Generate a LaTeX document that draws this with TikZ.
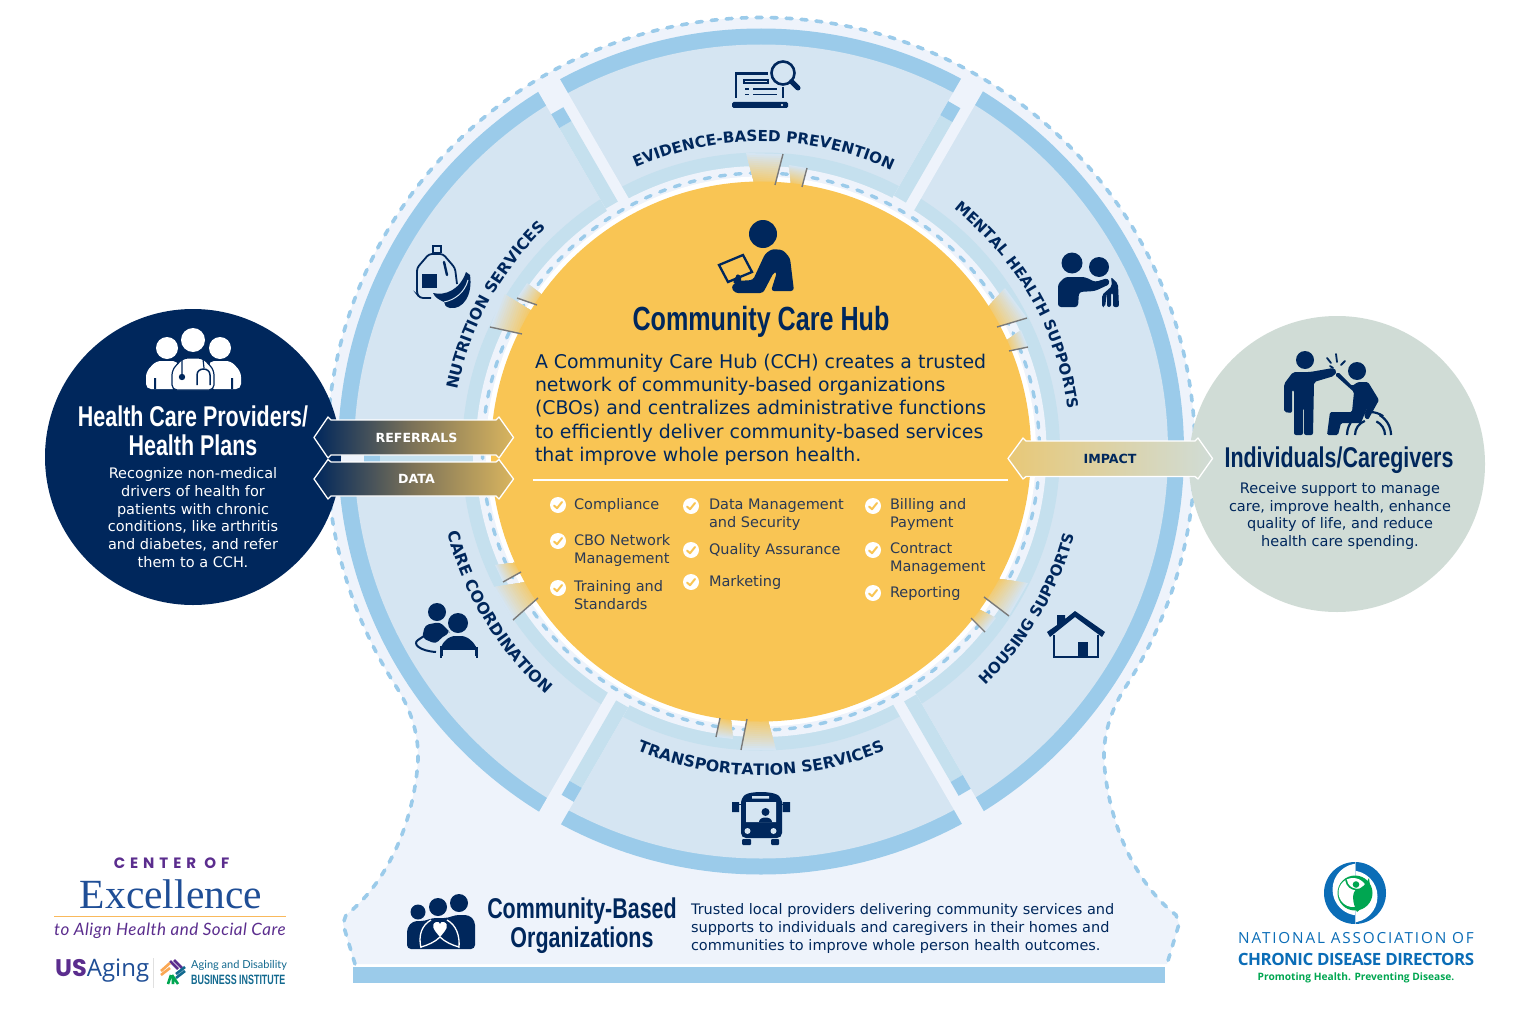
\documentclass[tikz,border=0pt]{standalone}
\usepackage{fontspec}
\usetikzlibrary{decorations.text,calc}
\setmainfont{DejaVu Sans}
\newfontfamily\condf[FakeStretch=0.75]{Liberation Sans}
\newfontfamily\narrf[FakeStretch=0.66]{Liberation Sans}
\newfontfamily\curvef{DejaVu Sans}
\newfontfamily\popp[LetterSpace=33]{Poppins}
\newfontfamily\latof{Lato}
\newfontfamily\lats[LetterSpace=3]{Lato}
\newfontfamily\openw[LetterSpace=12]{Open Sans}
\newfontfamily\openn[LetterSpace=-3]{Open Sans}
\newfontfamily\opens{Open Sans}
\newfontfamily\poppn{Poppins}
\newfontfamily\serifl{Liberation Serif}
\definecolor{navy}{HTML}{00275C}
\definecolor{gold}{HTML}{F9C554}
\definecolor{blue1}{HTML}{9BCBEA}
\definecolor{body1}{HTML}{D5E5F2}
\definecolor{light1}{HTML}{C5E0EE}
\definecolor{pale1}{HTML}{EEF3FB}
\definecolor{sage}{HTML}{D0DCD6}
\definecolor{txt1}{HTML}{2B3A55}
\definecolor{tip1}{HTML}{7A7A7A}
\definecolor{purp}{HTML}{5B2D8E}
\definecolor{logob}{HTML}{1F4E96}
\definecolor{orng}{HTML}{F9B95C}
\definecolor{ncb}{HTML}{0B6DB7}
\definecolor{ncg}{HTML}{00A651}
\definecolor{teal1}{HTML}{12698F}
\definecolor{arrr}{HTML}{D9B55F}
\definecolor{arrm}{HTML}{7D7358}
\definecolor{arrl}{HTML}{E8C877}
\tikzset{
 x=1pt,y=-1pt,
 curvetext/.style 2 args={decorate,decoration={text along path,text={|\curvef\bfseries\fontsize{#1}{18}\selectfont|#2},text align=center,text color=navy}},
 txt/.style={inner sep=0,outer sep=0,text=navy},
 para/.style={txt,align=left,anchor=west,font=\fontsize{14.5}{18}\selectfont},
 paraC/.style={txt,align=center,font=\fontsize{14.5}{17.8}\selectfont},
 chead/.style={txt,align=center,font=\condf\bfseries\fontsize{28.6}{28.5}\selectfont},
 flag/.style={draw=white,line width=1.3,line join=round},
 flagt/.style={inner sep=0,font=\bfseries\fontsize{12.6}{14}\selectfont},
 item/.style={inner sep=0,outer sep=0,text=txt1,align=left,anchor=west,font=\fontsize{14.5}{18}\selectfont},
 icon/.style={fill=navy},
 iconl/.style={draw=navy,line width=2.2},
}
\newcommand{\gtab}[4]{\foreach \s in {0,6,...,96}{\pgfmathsetmacro\u{\s/100*1.12}\fill[gold!\s!body1] ($(#1)!\u!(#4)$) -- ($(#2)!\u!(#3)$) -- ($(#2)!1.12!(#3)$) -- ($(#1)!1.12!(#4)$) -- cycle;}}
\newcommand{\gapband}[1]{\begin{scope}[shift={(761,451.5)},rotate=-#1]
 \fill[pale1] (268,-13) rectangle (426,12);
 \fill[light1] (288,-13) rectangle (381,1);
 \fill[blue1] (381,-13) rectangle (397,1);
 \end{scope}}
\newcommand{\chk}[2]{\begin{scope}[shift={(#1,#2)}]\fill[white] (0,0) circle[radius=8];
 \draw[gold,line width=2,line cap=round,line join=round] (-4,0.5) -- (-1,3.2) -- (4,-3);\end{scope}}
\begin{document}
\begin{tikzpicture}
\useasboundingbox (0,0) rectangle (1536,1030);
\fill[white] (0,0) rectangle (1536,1030);
% outer pale shape with dashed border
\path[fill=pale1,draw=blue1,line width=3.6,line cap=round,dash pattern=on 6 off 9]
 (355,964) -- (343,924) -- (346,915) .. controls (385,885) and (414,825) .. (418,760) .. controls (419,730) and (408,705) .. (397,688)
 -- plot[domain=147:393,samples=220,variable=\t] ({761+434*cos(\t)},{451.5+434*sin(\t)})
 .. controls (1114,705) and (1103,730) .. (1104,760) .. controls (1108,825) and (1137,885) .. (1176,915) -- (1179,924) -- (1167,964);
\fill[blue1] (353,967) rectangle (1165,983);
% rings
\fill[blue1] (761,451.5) circle[radius=423];
\fill[body1] (761,451.5) circle[radius=407];
\fill[light1] (761,451.5) circle[radius=299];
\fill[pale1] (761,451.5) circle[radius=285.5];
\gapband{-120}\gapband{-60}\gapband{60}\gapband{120}\gapband{180}
\fill[white] (761,451.5) circle[radius=275];
\draw[blue1,line width=3.4,line cap=round,dash pattern=on 6 off 9.5] (761,451.5) circle[radius=278.5];
% gradient tabs
\gtab{746,153}{783,154}{775,185}{754,182}
\gtab{789,165}{807,168}{802,187}{791,183}
\gtab{1005,288}{1027,318}{997,327}{988,307}
\gtab{1021,330}{1028,347}{1009,351}{1006.5,340.5}
\gtab{1028,583}{1009,616}{984,597}{1000,579}
\gtab{996,618}{985,632}{971,618}{980,610}
\gtab{776,750}{741,750}{747,719}{768,721}
\gtab{733,739}{716,737}{720,718}{731,721}
\gtab{493,587}{513,620}{538,598}{527,582}
\gtab{495,565}{503,582}{521,572}{513,563}
\gtab{503,293}{490,327}{522,334}{530,310}
\gtab{527,283}{517,298}{537,305}{542,295}
% hub
\node[circle,fill=gold,minimum size=540pt,inner sep=0] (hub) at (761,451.5) {};
% grey tab lines
\draw[tip1,line width=1.4] (783,154) -- (775,185) (807,168) -- (802,187)
 (1027,318) -- (997,327) (1028,347) -- (1009,351)
 (1009,616) -- (984,597) (985,632) -- (971,618)
 (741,750) -- (747,719) (716,737) -- (720,718)
 (513,620) -- (538,598) (503,582) -- (521,572)
 (490,327) -- (522,334) (517,298) -- (537,305);
% curved labels
\path[curvetext={15.2}{EVIDENCE-BASED PREVENTION}] plot[domain=-45:45,samples=90,variable=\t] ({761+310*cos(-89.5+\t)},{451.5+310*sin(-89.5+\t)});
\path[curvetext={15}{MENTAL HEALTH SUPPORTS}] plot[domain=-45:45,samples=90,variable=\t] ({761+310*cos(-29.7+\t)},{451.5+310*sin(-29.7+\t)});
\path[curvetext={15.6}{NUTRITION SERVICES}] plot[domain=-45:45,samples=90,variable=\t] ({761+310*cos(-151.2+\t)},{451.5+310*sin(-151.2+\t)});
\path[curvetext={15.2}{HOUSING SUPPORTS}] plot[domain=-45:45,samples=90,variable=\t] ({761+324*cos(30.5-\t)},{451.5+324*sin(30.5-\t)});
\path[curvetext={15.8}{TRANSPORTATION SERVICES}] plot[domain=-45:45,samples=90,variable=\t] ({761+324*cos(90-\t)},{451.5+324*sin(90-\t)});
\path[curvetext={15.9}{CARE COORDINATION}] plot[domain=-45:45,samples=90,variable=\t] ({761+324*cos(148.5-\t)},{451.5+324*sin(148.5-\t)});
% side circles
\node[circle,fill=navy,minimum size=296pt,inner sep=0] (left) at (193,457) {};
\node[circle,fill=sage,minimum size=296pt,inner sep=0] (right) at (1337,464) {};
% arrows
\shade[flag,left color=navy,right color=arrr,middle color=arrm] (314,437.5) -- (328,417) -- (331,420) -- (496,420) -- (499,417) -- (513.5,437.5) -- (499,458) -- (496,455) -- (331,455) -- (328,458) -- cycle;
\shade[flag,left color=navy,right color=arrr,middle color=arrm] (314,479) -- (328,459.5) -- (331,462) -- (496,462) -- (499,459.5) -- (513.5,479) -- (499,499) -- (496,496) -- (331,496) -- (328,499) -- cycle;
\shade[flag,left color=arrl,right color=sage] (1008,458.5) -- (1023,438) -- (1026,441) -- (1195,441) -- (1198,438) -- (1212.5,458.5) -- (1198,479) -- (1195,476.5) -- (1026,476.5) -- (1023,479) -- cycle;
\node[flagt,text=white] (ref) at (416.5,437.5) {REFERRALS};
\node[flagt,text=white] (dat) at (416.5,478.5) {DATA};
\node[flagt,text=navy] (imp) at (1110,459) {IMPACT};
% hub texts
\node[txt,font=\condf\bfseries\fontsize{33.5}{36}\selectfont] (hubt) at (761,322) {Community Care Hub};
\node[txt,align=left,anchor=west,font=\fontsize{18.9}{23.3}\selectfont] (hubp) at (535,409.5) {A Community Care Hub (CCH) creates a trusted\\network of community-based organizations\\(CBOs) and centralizes administrative functions\\to efficiently deliver community-based services\\that improve whole person health.};
\draw[white,line width=2] (533,479.5) -- (1008,479.5);
\chk{558}{505}\chk{558}{541}\chk{558}{588}
\chk{691}{506}\chk{691}{550}\chk{691}{582}
\chk{873}{506}\chk{873}{550}\chk{873}{593}
\node[item] (c1) at (574,505.5) {Compliance};
\node[item] (c2) at (574,550.5) {CBO Network\\Management};
\node[item] (c3) at (574,595) {Training and\\Standards};
\node[item] (c4) at (709,515) {Data Management\\and Security};
\node[item] (c5) at (709,550) {Quality Assurance};
\node[item] (c6) at (709,582) {Marketing};
\node[item] (c7) at (890,514) {Billing and\\Payment};
\node[item] (c8) at (890,559) {Contract\\Management};
\node[item] (c9) at (890,593) {Reporting};
% left circle texts
\node[chead,text=white] (lh) at (193,431) {Health Care Providers/\\Health Plans};
\node[paraC,text=white] (lp) at (193,517.5) {Recognize non-medical\\drivers of health for\\patients with chronic\\conditions, like arthritis\\and diabetes, and refer\\them to a CCH.};
% right circle texts
\node[chead] (rh) at (1339,460) {Individuals/Caregivers};
\node[paraC] (rp) at (1340,516) {Receive support to manage\\care, improve health, enhance\\quality of life, and reduce\\health care spending.};
% bottom texts
\node[chead] (bh) at (582,925.5) {Community-Based\\Organizations};
\node[para] (bp) at (691,928) {Trusted local providers delivering community services and\\supports to individuals and caregivers in their homes and\\communities to improve whole person health outcomes.};
% ICON laptop
\draw[iconl] (736,98) -- (736,73.5) -- (768,73.5) (783,87) -- (783,98);
\fill[icon,rounded corners=1.5] (732,102) rectangle (788,108);
\fill[white] (782,105) circle[radius=1.2];
\draw[navy,line width=2.6] (783,73) circle[radius=11.5];
\draw[navy,line width=5,line cap=round] (791.5,81.5) -- (798,88);
\draw[navy,line width=1.6] (744,80) rectangle (768,83) (753,89) -- (777,89) (753,94.5) -- (777,94.5) (745,89) -- (749,89) (745,94.5) -- (749,94.5);
% ICON hub person
\fill[icon] (763,234) circle[radius=14];
\fill[icon,rounded corners=3] (731,287) -- (737,281) -- (753,280) -- (765,254) -- (772,249) -- (783,250) -- (790,258) -- (794,291) -- (771,291) -- (777,272) -- (774,272) -- (763,293) -- (735,293) -- cycle;
\draw[navy,line width=2.3] (719,265) -- (743,255) -- (752,272) -- (728,282) -- cycle;
\fill[icon,rounded corners=1] (733,283) -- (737,274) -- (741,276) -- (741,283) -- cycle;
% ICON mental
\fill[icon] (1072,263) circle[radius=10.5] (1099,267) circle[radius=10];
\fill[icon,rounded corners=3] (1058,307) -- (1058,284) -- (1065,277) -- (1085,277) -- (1095,282) -- (1108,278) -- (1110,284) -- (1095,291) -- (1079,292) -- (1078,307) -- cycle;
\fill[icon,rounded corners=2] (1102,307) -- (1102,295) -- (1112,286) -- (1111,277) -- (1118,284) -- (1119,307) -- (1113,307) -- (1113,293) -- (1111,293) -- (1111,307) -- (1107,307) -- (1107,293) -- (1105,307) -- cycle;
% ICON house
\fill[icon] (1047,632) -- (1057,625) -- (1057,615) -- (1065,615) -- (1065,619) -- (1075,611) -- (1105,632) -- (1102,637) -- (1075,617) -- (1050,637) -- cycle;
\draw[navy,line width=2] (1054,635) -- (1054,657) -- (1098,657) -- (1098,635);
\fill[icon] (1078,642) rectangle (1088,657);
% ICON bus
\fill[icon,rounded corners=5] (741,838) -- (741,798) .. controls (750,791) and (772,791) .. (782,798) -- (782,838) -- cycle;
\fill[icon] (732,802) rectangle (739,812) (782.5,802) rectangle (790,812);
\draw[navy,line width=1] (739,804) -- (741,804) (781,804) -- (783,804);
\fill[icon,rounded corners=1] (742,839) rectangle (751,845) (771,839) rectangle (779,845);
\fill[body1] (746,802) rectangle (776,822) (752,796) rectangle (769,798.5) (747.5,831) circle[radius=3] (773.5,831) circle[radius=3];
\fill[icon] (765.5,812) circle[radius=4] (759,822) .. controls (759,816) and (772,816) .. (772,822) -- cycle;
% ICON jug + banana
\fill[icon] (432,245) rectangle (442,253);
\fill[body1] (434,247) rectangle (440,252);
\draw[navy,line width=1.8,rounded corners=3] (431,298) -- (420,298) -- (417,294) -- (417,268) -- (429,254) -- (443,254) -- (455,268) -- (457,284);
\fill[icon] (422,274) rectangle (437,288);
\draw[navy,line width=2.4,line cap=round] (444,262) -- (447,275);
\fill[icon] (433,293) .. controls (445,296) and (460,290) .. (466,272) -- (470,275) .. controls (473,295) and (463,310) .. (450,308) .. controls (446,307) and (444,305) .. (444,302) .. controls (440,300) and (435,298) .. (433,293) -- cycle;
\draw[body1,line width=1] (444,302) .. controls (455,300) and (465,292) .. (468,280);
% ICON care
\fill[icon] (437,612) circle[radius=9] (458,623) circle[radius=10];
\fill[icon,rounded corners=4] (422,638) -- (425,625) -- (440,622) -- (448,630) -- (450,633) -- (442,637) -- (436,644) -- cycle;
\fill[icon,rounded corners=5] (440,657) -- (441,645) -- (450,636) -- (466,636) -- (476,645) -- (478,657) -- cycle;
\fill[body1] (443,649) rectangle (475,658);
\fill[icon] (440,646) rectangle (476,650);
\draw[navy,line width=2] (441,647) -- (441,658) (477,647) -- (477,658);
\draw[navy,line width=2] (436,652) .. controls (420,651) and (412,644) .. (418,640) -- (424,636);
% ICON doctors
\fill[white] (193,340) circle[radius=12] (167,348) circle[radius=11] (220,348) circle[radius=11];
\fill[white,rounded corners=5] (146,389) -- (146,372) -- (156,361) -- (178,361) -- (178,389) -- cycle;
\fill[white,rounded corners=5] (241,389) -- (241,372) -- (231,361) -- (209,361) -- (209,389) -- cycle;
\fill[navy] (154,378) rectangle (156,389) (231,378) rectangle (233,389);
\fill[white,draw=navy,line width=1.2,rounded corners=5] (172,390) -- (172,370) -- (183,358) -- (203,358) -- (214,370) -- (214,390) -- cycle;
\fill[navy] (182,377) circle[radius=3.2];
\draw[navy,line width=1.2] (182,376) -- (182,360) (203,359) -- (204,368);
\draw[navy,line width=1.5] (197,385) -- (197,375) .. controls (197,367) and (210,367) .. (210,375) -- (210,385);
% ICON high five
\fill[icon] (1305,360) circle[radius=9] (1357,371) circle[radius=9];
\fill[icon,rounded corners=2] (1284,412) -- (1284,384) -- (1293,372) -- (1310,372) -- (1333,368) -- (1337,371) -- (1334,376) -- (1314,382) -- (1313,435) -- (1304,435) -- (1304,408) -- (1303,408) -- (1303,435) -- (1294,435) -- (1294,390) -- (1292,390) -- (1292,413) -- cycle;
\fill[icon,rounded corners=1.5] (1335,375) -- (1338,372) -- (1352,386) -- (1358,382) -- (1368,382) -- (1379,400) -- (1368,420) -- (1364,417) -- (1370,400) -- (1361,423) -- (1341,423) -- (1338,435) -- (1327,435) -- (1330,412) -- (1352,412) -- (1354,392) -- cycle;
\draw[navy,line width=2.2] (1347,435) arc[start angle=180,end angle=305,radius=23];
\draw[navy,line width=2.2] (1391,435) arc[start angle=0,end angle=-60,radius=23];
\draw[navy,line width=2.2] (1355,435) arc[start angle=180,end angle=250,radius=15] (1385,435) arc[start angle=0,end angle=-65,radius=15];
\draw[navy,line width=1.8,line cap=round] (1327,358) -- (1331,363) (1336,354) -- (1337,362) (1345,361) -- (1341,365) (1330,366) -- (1333,368);
% ICON community
\fill[icon] (418,912) circle[radius=7.5] (438,907) circle[radius=9] (459,903) circle[radius=9];
\fill[icon,rounded corners=4] (407,949) -- (407,928) -- (413,921) -- (425,921) -- (432,918) -- (448,918) -- (455,915) -- (469,915) -- (475,921) -- (475,949) -- cycle;
\draw[white,line width=1.3] (421,948) .. controls (418,935) and (422,925) .. (431,920) (459,948) .. controls (460,935) and (456,925) .. (447,920) (421,947) .. controls (428,945) and (435,942) .. (440,937) .. controls (445,942) and (452,945) .. (459,947);
\fill[white] (440,937) .. controls (434,930) and (430,925) .. (436,922) .. controls (438,921) and (440,923) .. (440,924) .. controls (440,923) and (442,921) .. (444,922) .. controls (450,925) and (446,930) .. (440,937) -- cycle;
% LOGO centre of excellence
\node[inner sep=0,text=purp,font=\popp\bfseries\fontsize{15}{18}\selectfont] (coe1) at (171.5,863) {CENTER OF};
\node[inner sep=0,text=logob,font=\serifl\fontsize{41.5}{44}\selectfont] (coe2) at (171,894.5) {Excellence};
\draw[orng,line width=1.2] (54,916.5) -- (286,916.5);
\node[inner sep=0,text=purp,font=\lats\itshape\fontsize{17}{18}\selectfont] (coe3) at (170,930.5) {to Align Health and Social Care};
\node[inner sep=0,anchor=west,font=\opens\fontsize{24}{26}\selectfont] (ua) at (55,971) {{\poppn\bfseries\color{purp}US}{\color{logob}Aging}};
\draw[black!12,line width=0.8] (153.5,958) -- (153.5,988);
\begin{scope}[line width=2.6]
\draw[purp] (170,961) -- (178,969) (174,960) -- (182,968);
\draw[orng!90!red] (161,971) -- (170,963) (161,975) -- (170,968);
\draw[teal1] (176,978) -- (185,971) (176,974) -- (185,967);
\draw[ncg] (168,984) -- (171,975) (178,984) -- (172,975) (173,984) -- (173,976);
\end{scope}
\node[inner sep=0,anchor=west,text=teal1,font=\latof\fontsize{11}{12}\selectfont] (ad) at (191,965.5) {Aging and Disability};
\node[inner sep=0,anchor=west,text=teal1,font=\narrf\bfseries\fontsize{13.5}{14}\selectfont] (bi) at (191,979.5) {BUSINESS INSTITUTE};
% LOGO NACDD
\begin{scope}
\clip (1320,855) rectangle (1355,930);
\fill[ncb] (1355,893) circle[radius=31];
\fill[white] (1358.5,889.5) circle[radius=26];
\end{scope}
\begin{scope}
\clip (1355.6,855) rectangle (1390,930);
\fill[ncb] (1355,893) circle[radius=31];
\fill[white] (1351.5,896.5) circle[radius=26];
\end{scope}
\fill[ncg] (1355,893) circle[radius=17.5];
\fill[white] (1353,892.5) circle[radius=14.5];
\fill[ncg] (1356,884.5) circle[radius=3.3];
\fill[ncg] (1357,912) .. controls (1352,902) and (1352,893) .. (1356,889) .. controls (1361,890) and (1367,883) .. (1369,878) .. controls (1371,888) and (1368,905) .. (1357,912) -- cycle;
\draw[ncg,line width=1.6,line cap=round] (1346,880) .. controls (1347,886) and (1351,889) .. (1356,889.5);
\node[inner sep=0,text=ncb,font=\openw\fontsize{15.3}{17}\selectfont] (na1) at (1356,938) {NATIONAL ASSOCIATION OF};
\node[inner sep=0,text=ncb,font=\openn\bfseries\fontsize{16.9}{17}\selectfont] (na2) at (1356,959) {CHRONIC DISEASE DIRECTORS};
\node[inner sep=0,text=ncg,font=\opens\bfseries\fontsize{10.2}{12}\selectfont] (na3) at (1356,978) {Promoting Health. Preventing Disease.};
\end{tikzpicture}
\end{document}
